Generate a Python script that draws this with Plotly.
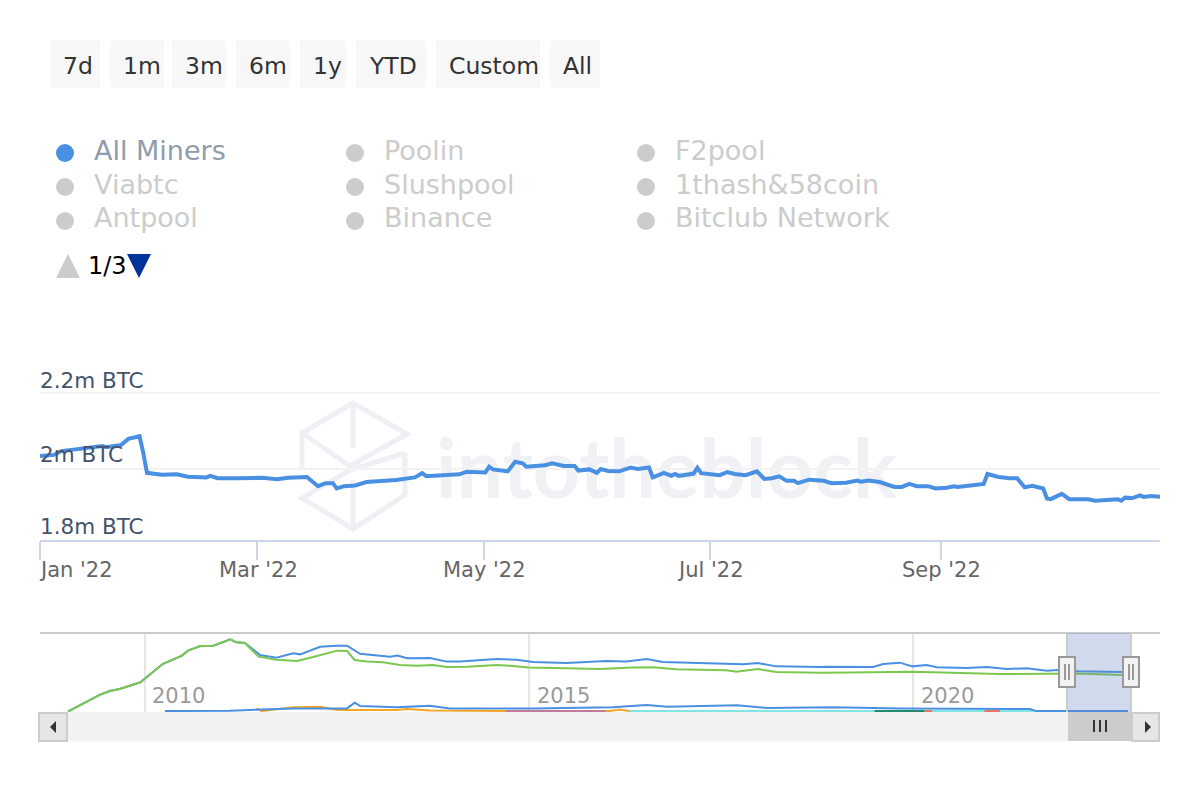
import pandas as pd
import plotly.graph_objects as go

range_buttons = ["7d", "1m", "3m", "6m", "1y", "YTD", "Custom", "All"]
legend_names = ["All Miners", "Viabtc", "Antpool", "Poolin", "Slushpool", "Binance",
                "F2pool", "1thash&58coin", "Bitclub Network"]
legend_page = "1/3"

y_labels = ["2.2m BTC", "2m BTC", "1.8m BTC"]
month_ticks = ["2022-03-01", "2022-05-01", "2022-07-01", "2022-09-01"]
month_labels = ["Jan '22", "Mar '22", "May '22", "Jul '22", "Sep '22"]
nav_years = [2010, 2015, 2020]

# days since start of 2022 / holdings in million BTC
days = [0, 4, 6, 11, 17, 18, 22, 24, 27, 28, 29, 33, 37, 40, 45, 46, 48, 53, 60, 64, 67, 72,
        75, 77, 79, 80, 82, 85, 88, 96, 101, 103, 104, 105, 113, 115, 120, 121, 122, 126,
        128, 130, 131, 136, 138, 141, 144, 145, 148, 150, 151, 153, 156, 159, 161, 164,
        165, 168, 170, 171, 172, 176, 177, 178, 180, 181, 183, 185, 187, 190, 193, 195,
        197, 199, 201, 203, 204, 207, 211, 213, 217, 220, 221, 223, 226, 230, 232, 234,
        236, 239, 241, 244, 246, 247, 250, 254, 255, 258, 261, 263, 265, 267, 270, 271,
        272, 274, 275, 277, 282, 284, 287, 290, 291, 292, 294, 296, 297, 299, 302]
all_miners = [2.034, 2.037, 2.047, 2.052, 2.060, 2.057, 2.063, 2.079, 2.086, 2.042, 1.990,
              1.985, 1.986, 1.980, 1.978, 1.982, 1.976, 1.976, 1.977, 1.973, 1.977, 1.979,
              1.955, 1.963, 1.963, 1.949, 1.955, 1.957, 1.966, 1.971, 1.978, 1.989, 1.982,
              1.982, 1.986, 1.993, 1.991, 2.006, 1.999, 1.994, 2.019, 2.015, 2.006, 2.010,
              2.015, 2.008, 2.008, 1.996, 1.999, 1.990, 2.000, 1.995, 1.994, 2.004, 2.000,
              2.004, 1.978, 1.990, 1.982, 1.987, 1.982, 1.988, 2.003, 1.989, 1.986, 1.987,
              1.984, 1.992, 1.987, 1.984, 1.994, 1.974, 1.976, 1.981, 1.969, 1.969, 1.963,
              1.972, 1.969, 1.963, 1.964, 1.970, 1.967, 1.970, 1.966, 1.953, 1.953, 1.961,
              1.955, 1.955, 1.949, 1.951, 1.955, 1.953, 1.957, 1.961, 1.987, 1.979, 1.976,
              1.976, 1.952, 1.956, 1.949, 1.923, 1.921, 1.931, 1.935, 1.921, 1.921, 1.917,
              1.918, 1.921, 1.917, 1.925, 1.924, 1.931, 1.927, 1.929, 1.927]

# navigator series, decimal years / million BTC
green_years = [2009.00, 2009.41, 2009.54, 2009.67, 2009.94, 2010.23, 2010.48, 2010.56, 2010.72,
               2010.89, 2011.11, 2011.19, 2011.30, 2011.48, 2011.71, 2011.98, 2012.24, 2012.50,
               2012.63, 2012.73, 2012.89, 2013.10, 2013.32, 2013.54, 2013.75, 2013.93, 2014.19,
               2014.58, 2014.79, 2014.99, 2015.49, 2015.92, 2016.35, 2016.61, 2016.92, 2017.57,
               2017.70, 2017.98, 2018.22, 2018.79, 2019.18, 2020.00, 2021.13, 2021.89, 2022.14,
               2022.72]
green_vals = [0.00, 0.80, 0.99, 1.09, 1.41, 2.29, 2.70, 2.94, 3.16, 3.18, 3.49, 3.34, 3.31, 2.65,
              2.50, 2.44, 2.68, 2.94, 2.92, 2.49, 2.41, 2.38, 2.25, 2.21, 2.25, 2.15, 2.16, 2.25,
              2.20, 2.12, 2.09, 2.05, 2.12, 2.14, 2.04, 1.99, 1.92, 2.05, 1.91, 1.87, 1.89, 1.92,
              1.81, 1.80, 1.83, 1.76]
total_years = [2009.00, 2009.41, 2009.54, 2009.67, 2009.94, 2010.23, 2010.48, 2010.56, 2010.72,
               2010.89, 2011.11, 2011.19, 2011.30, 2011.50, 2011.71, 2011.93, 2012.02, 2012.28,
               2012.50, 2012.63, 2012.80, 2013.19, 2013.29, 2013.41, 2013.71, 2013.93, 2014.10,
               2014.58, 2014.84, 2015.05, 2015.49, 2016.01, 2016.27, 2016.53, 2016.74, 2017.23,
               2017.79, 2017.98, 2018.22, 2018.79, 2018.89, 2019.48, 2019.61, 2019.83, 2019.99,
               2020.18, 2020.31, 2020.70, 2020.96, 2021.22, 2021.48, 2021.74, 2021.89, 2022.14,
               2022.72]
total_vals = [0.00, 0.80, 0.99, 1.09, 1.41, 2.29, 2.70, 2.94, 3.16, 3.18, 3.49, 3.34, 3.31, 2.73,
              2.60, 2.81, 2.76, 3.13, 3.18, 3.18, 2.79, 2.65, 2.70, 2.57, 2.58, 2.41, 2.41, 2.54,
              2.50, 2.39, 2.34, 2.44, 2.41, 2.54, 2.39, 2.33, 2.28, 2.34, 2.18, 2.15, 2.16, 2.15,
              2.29, 2.36, 2.18, 2.25, 2.14, 2.10, 2.15, 2.05, 2.09, 1.97, 2.00, 1.94, 1.91]
pool_years = [2010.26, 2011.11, 2011.93, 2012.63, 2012.73, 2012.80, 2013.28, 2013.71, 2013.97,
              2015.05, 2016.09, 2016.53, 2016.80, 2017.71, 2018.10, 2018.96, 2019.83, 2021.52,
              2021.61, 2022.80]
pool_vals = [0.02, 0.04, 0.15, 0.15, 0.43, 0.27, 0.20, 0.28, 0.15, 0.15, 0.20, 0.31, 0.23, 0.30,
             0.17, 0.20, 0.15, 0.12, 0.02, 0.02]
orange_years = [2011.45, 2011.52, 2011.93, 2012.28, 2012.50, 2013.28, 2013.41, 2013.71, 2014.66,
                2016.05, 2016.18, 2016.30, 2016.90]
orange_vals = [0.15, 0.02, 0.20, 0.23, 0.07, 0.07, 0.12, 0.05, 0.03, 0.03, 0.10, 0.03, 0.02]
mauve_years = [2014.70, 2015.30, 2016.00]
mauve_vals = [0.03, 0.04, 0.03]
cyan_years = [2016.30, 2017.50, 2019.00, 2020.50, 2022.10, 2022.50]
cyan_vals = [0.02, 0.03, 0.03, 0.02, 0.02, 0.01]
teal_years = [2019.50, 2020.15]
teal_vals = [0.02, 0.02]
red_years = [2020.15, 2020.25, None, 2020.93, 2021.13]
red_vals = [0.02, 0.02, None, 0.02, 0.03]


# the page body keeps its 8px margin, so everything is measured from there
PAGE_W, PAGE_H, OFF = 1184, 784, 8
def fx(px):
    return (px - OFF) / PAGE_W
def fy(py):
    return 1 - (py - OFF) / PAGE_H

FONT = "DejaVu Sans"
day0 = pd.Timestamp("2022-01-01")
dates = [day0 + pd.Timedelta(days=d + 0.5) for d in days]
x_start = day0 + pd.Timedelta(days=0.73)
x_end = day0 + pd.Timedelta(days=301.9)

shapes = []
annotations = []

def add_text(text, x, y, size, color, anchor="left"):
    annotations.append(dict(text=text, x=fx(x), y=fy(y), xref="paper", yref="paper", showarrow=False,
                            xanchor=anchor, yanchor="middle", align=anchor, borderpad=0,
                            font=dict(family=FONT, size=size, color=color)))

def add_rect(x0, y0, x1, y1, fill, line=None, width=0, layer="above"):
    shapes.append(dict(type="rect", xref="paper", yref="paper", x0=fx(x0), x1=fx(x1), y0=fy(y0), y1=fy(y1),
                       fillcolor=fill, line=dict(color=line or fill, width=width), layer=layer))

def add_path(points, color=None, fill=None, width=0, layer="above", close=False):
    d = "M " + " L ".join(f"{fx(a):.5f},{fy(b):.5f}" for a, b in points) + (" Z" if close else "")
    shapes.append(dict(type="path", path=d, xref="paper", yref="paper", fillcolor=fill or "rgba(0,0,0,0)",
                       line=dict(color=color or "rgba(0,0,0,0)", width=width), layer=layer))

def add_round_rect(x0, y0, x1, y1, r, fill):
    d = (f"M {fx(x0+r):.5f},{fy(y0):.5f} L {fx(x1-r):.5f},{fy(y0):.5f} Q {fx(x1):.5f},{fy(y0):.5f} {fx(x1):.5f},{fy(y0+r):.5f} "
         f"L {fx(x1):.5f},{fy(y1-r):.5f} Q {fx(x1):.5f},{fy(y1):.5f} {fx(x1-r):.5f},{fy(y1):.5f} "
         f"L {fx(x0+r):.5f},{fy(y1):.5f} Q {fx(x0):.5f},{fy(y1):.5f} {fx(x0):.5f},{fy(y1-r):.5f} "
         f"L {fx(x0):.5f},{fy(y0+r):.5f} Q {fx(x0):.5f},{fy(y0):.5f} {fx(x0+r):.5f},{fy(y0):.5f} Z")
    shapes.append(dict(type="path", path=d, xref="paper", yref="paper", fillcolor=fill, line=dict(width=0), layer="below"))

# range buttons
button_edges = [(50, 100), (110, 164), (172, 226), (236, 290), (300, 346), (356, 426), (436, 540), (550, 600)]
for label, (a, b) in zip(range_buttons, button_edges):
    add_round_rect(a, 40, b, 88, 4, "#f7f7f7")
    add_text(label, a + 12, 66, 23.5, "#333333")

# legend, three rows per column
for i, name in enumerate(legend_names):
    cx = [65, 355, 646][i // 3]
    cy = [153, 187, 221][i % 3]
    dot = "#4a90e2" if i == 0 else "#cccccc"
    shapes.append(dict(type="circle", xref="paper", yref="paper", x0=fx(cx - 9), x1=fx(cx + 9),
                       y0=fy(cy + 9), y1=fy(cy - 9), fillcolor=dot, line=dict(width=0)))
    add_text(name, cx + 28, cy - 3, 27, "#8e9cab" if i == 0 else "#cccccc")

add_path([(56, 278), (80, 278), (68, 254)], fill="#cccccc", close=True)
add_path([(127, 254), (151, 254), (139, 278)], fill="#003399", close=True)
add_text(legend_page, 87, 266, 24, "#000000")

# watermark logo
logo = "#eef0f5"
for seg in [[(302, 470), (302, 433), (353, 403), (407, 434), (350, 466), (302, 433)],
            [(353, 403), (353, 448)],
            [(405, 453), (405, 495), (353, 529), (302, 498), (350, 470), (405, 453)],
            [(353, 480), (353, 529)]]:
    add_path(seg, color=logo, width=5, layer="below")
# shape label, so the line stays on top of the wordmark
shapes.append(dict(type="rect", xref="paper", yref="paper", x0=fx(433), x1=fx(905), y0=fy(505), y1=fy(425),
                   fillcolor="rgba(0,0,0,0)", line=dict(width=0), layer="below",
                   label=dict(text="intotheblock", textposition="middle left", padding=0,
                              font=dict(family="Lato", size=82, weight=700, color="#eff1f5"))))

# y tick labels sit above their gridlines
for label, py in zip(y_labels, [380, 454, 526]):
    add_text(label, 39, py, 21.5, "#45536a")

# month labels
add_text(month_labels[0], 38, 570, 21, "#666666")
for label, px in zip(month_labels[1:], [258, 484.5, 710, 941]):
    add_text(label, px, 570, 21, "#666666", "center")

# navigator year labels
for year, px in zip(nav_years, [151, 536, 920]):
    add_text(str(year), px, 696, 21, "#999999")

# navigator frame, selection and scrollbar
add_path([(40, 633), (1160, 633)], color="#cccccc", width=2)
add_rect(1067, 633, 1131, 712, "rgba(102,133,194,0.3)")
add_path([(1067, 633), (1067, 712)], color="#cccccc", width=2)
add_path([(1131, 633), (1131, 712)], color="#cccccc", width=2)
add_rect(40, 712, 1160, 741, "#f2f2f2")
add_rect(1068, 712, 1132, 741, "#cccccc")
add_rect(39, 713, 67, 741, "#e6e6e6", "#cccccc", 2)
add_rect(1132, 713, 1159, 741, "#e6e6e6", "#cccccc", 2)
add_path([(56, 721), (56, 733), (50, 727)], fill="#333333", close=True)
add_path([(1145, 721), (1145, 733), (1151, 727)], fill="#333333", close=True)
for px in [1094, 1100, 1106]:
    add_path([(px, 720), (px, 732)], color="#333333", width=2)
for left in [1059, 1123]:
    add_rect(left, 657, left + 16, 687, "#f2f2f2", "#999999", 2)
    add_path([(left + 6, 664), (left + 6, 680)], color="#999999", width=2)
    add_path([(left + 10, 664), (left + 10, 680)], color="#999999", width=2)

fig = go.Figure()
fig.add_trace(go.Scatter(x=dates, y=all_miners, mode="lines", name="All Miners",
                         line=dict(color="#4a90e2", width=4), xaxis="x", yaxis="y"))

nav_series = [(total_years, total_vals, "#4a90e2", 2), (green_years, green_vals, "#7cc84f", 2),
              (orange_years, orange_vals, "#f5a623", 2), (mauve_years, mauve_vals, "#c07c9a", 2),
              (cyan_years, cyan_vals, "#7fe5e5", 2), (teal_years, teal_vals, "#1e8a6e", 2),
              (red_years, red_vals, "#e8745f", 2), (pool_years, pool_vals, "#4a90e2", 2)]
for xs, ys, color, w in nav_series:
    fig.add_trace(go.Scatter(x=xs, y=ys, mode="lines", line=dict(color=color, width=w),
                             xaxis="x2", yaxis="y2", hoverinfo="skip"))

fig.update_layout(
    width=PAGE_W, height=PAGE_H, margin=dict(l=0, r=0, t=0, b=0),
    paper_bgcolor="white", plot_bgcolor="rgba(0,0,0,0)", showlegend=False,
    shapes=shapes, annotations=annotations,
    xaxis=dict(domain=[fx(40), fx(1160)], range=[x_start, x_end], anchor="y",
               tickvals=[x_start] + month_ticks, showticklabels=False, ticks="outside", ticklen=18,
               tickwidth=2, tickcolor="#ccd6eb", showgrid=False, showline=True, linecolor="#ccd6eb",
               linewidth=2, zeroline=False),
    yaxis=dict(domain=[fy(540), fy(390)], range=[1.814, 2.2071], anchor="x", tickvals=[2.0, 2.2],
               showticklabels=False, showgrid=True, gridcolor="#f2f2f2", gridwidth=2, zeroline=False),
    xaxis2=dict(domain=[fx(40), fx(1160)], range=[2008.633, 2023.216], anchor="y2", tickvals=nav_years,
                showticklabels=False, showgrid=True, gridcolor="#e6e6e6", gridwidth=2, zeroline=False),
    yaxis2=dict(domain=[fy(712), fy(633)], range=[-0.024, 3.792], anchor="x2", visible=False),
)

fig.write_html("out.html")
